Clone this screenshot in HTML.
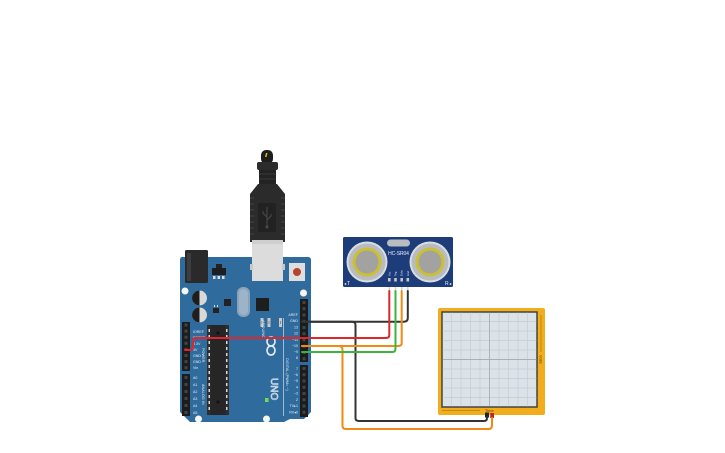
<!DOCTYPE html>
<html><head><meta charset="utf-8"><style>
html,body{margin:0;padding:0;background:#fff;}
svg{display:block;}
text{font-family:"Liberation Sans",sans-serif;}
</style></head><body>
<svg width="725" height="453" viewBox="0 0 725 453" xmlns="http://www.w3.org/2000/svg">
<rect width="725" height="453" fill="#fff"/>

<!-- USB cable -->
<rect x="261" y="150" width="12" height="14" rx="5" fill="#1e1e1e"/>
<path d="M266,153 l1.5,0 -1,4 -1.5,0z" fill="#e8c400"/>
<rect x="257" y="162" width="21" height="8" rx="2" fill="#2c2c2c"/>
<rect x="259" y="170" width="17" height="16" fill="#232323"/>
<line x1="259" y1="174" x2="276" y2="174" stroke="#3a3a3a" stroke-width="1"/>
<line x1="259" y1="179" x2="276" y2="179" stroke="#3a3a3a" stroke-width="1"/>
<path d="M258,184 H277 L285,194 V242 H250 V194 Z" fill="#2b2b2b"/>
<g stroke="#454545" stroke-width="1">
<line x1="250" y1="198" x2="254" y2="198"/><line x1="250" y1="204" x2="254" y2="204"/><line x1="250" y1="210" x2="254" y2="210"/><line x1="250" y1="216" x2="254" y2="216"/><line x1="250" y1="222" x2="254" y2="222"/><line x1="250" y1="228" x2="254" y2="228"/><line x1="250" y1="234" x2="254" y2="234"/>
<line x1="281" y1="198" x2="285" y2="198"/><line x1="281" y1="204" x2="285" y2="204"/><line x1="281" y1="210" x2="285" y2="210"/><line x1="281" y1="216" x2="285" y2="216"/><line x1="281" y1="222" x2="285" y2="222"/><line x1="281" y1="228" x2="285" y2="228"/><line x1="281" y1="234" x2="285" y2="234"/>
</g>
<rect x="258" y="203" width="18" height="29" fill="#222"/>
<g stroke="#4a4a4a" stroke-width="1" fill="none">
<line x1="267" y1="207" x2="267" y2="227"/>
<path d="M267,217 L263,213 V211"/><path d="M267,220 L271,216 V214"/>
</g>
<circle cx="267" cy="227" r="1.5" fill="#4a4a4a"/>

<!-- Arduino board -->
<path d="M182,257 H308 Q311,257 311,260 V412 L304,419 H290 L284,422 H190 L180,412 V260 Q180,257 182,257 Z" fill="#2f6b9c"/>
<!-- USB grey plug -->
<rect x="252" y="240" width="31" height="41" fill="#dcdcdc"/>
<rect x="252" y="240" width="31" height="4" fill="#cfcfcf"/>
<rect x="250" y="264" width="3" height="6" fill="#c8c8c8"/>
<rect x="282" y="264" width="3" height="6" fill="#c8c8c8"/>
<!-- DC jack -->
<rect x="185" y="250" width="23" height="33" rx="1.5" fill="#2a2a2a"/>
<rect x="187" y="253" width="4" height="28" fill="#3d3d3d"/>
<!-- regulator -->
<rect x="216" y="264" width="6" height="4" fill="#222"/>
<rect x="212" y="268" width="14" height="7" fill="#1e1e1e"/>
<rect x="213" y="276" width="2.5" height="3" fill="#ddd"/><rect x="217.5" y="276" width="2.5" height="3" fill="#ddd"/><rect x="222" y="276" width="2.5" height="3" fill="#ddd"/>
<!-- reset -->
<rect x="289" y="263" width="16" height="18" fill="#dedede"/>
<circle cx="297" cy="272" r="4" fill="#b5452c"/>
<!-- mounting holes -->
<circle cx="185" cy="291" r="3.5" fill="#f6f6ee"/>
<circle cx="303.5" cy="293" r="3.5" fill="#f6f6ee"/>
<circle cx="198.5" cy="419" r="3.5" fill="#f6f6ee"/>
<circle cx="266.5" cy="419" r="3.5" fill="#f6f6ee"/>
<!-- capacitors -->
<circle cx="199.5" cy="298" r="7.5" fill="#d9d9d9"/>
<path d="M199.5,290.5 A7.5,7.5 0 0,0 199.5,305.5 Z" fill="#1e1e1e"/>
<circle cx="199.5" cy="315" r="7.5" fill="#d9d9d9"/>
<path d="M199.5,307.5 A7.5,7.5 0 0,0 199.5,322.5 Z" fill="#1e1e1e"/>
<!-- small parts -->
<rect x="224" y="299" width="7" height="7" fill="#222"/>
<rect x="213" y="308" width="6" height="5" fill="#222"/>
<rect x="214" y="305" width="1" height="2" fill="#ddd"/><rect x="217" y="305" width="1" height="2" fill="#ddd"/>
<rect x="237" y="287" width="13" height="30" rx="6" fill="#8aa3bb"/>
<rect x="239" y="289" width="9" height="26" rx="4.5" fill="#9db3c8"/>
<rect x="256" y="298" width="13" height="13" fill="#1e1e1e"/>
<rect x="260.5" y="318" width="3" height="9" fill="#c8c8c8"/>
<rect x="267.5" y="318" width="3" height="9" fill="#c8c8c8"/>
<rect x="279" y="318" width="3" height="9" fill="#c8c8c8"/>
<rect x="261.5" y="321" width="1" height="3" fill="#888"/><rect x="268.5" y="321" width="1" height="3" fill="#888"/><rect x="280" y="321" width="1" height="3" fill="#888"/>
<rect x="265" y="398" width="3.5" height="4" fill="#6ce04a"/>
<!-- main chip -->
<rect x="207" y="325" width="22" height="90" fill="#2e2e2e"/>
<g fill="#d8d8d8">
<rect x="208.5" y="329" width="1.5" height="3"/><rect x="208.5" y="335" width="1.5" height="3"/><rect x="208.5" y="341" width="1.5" height="3"/><rect x="208.5" y="347" width="1.5" height="3"/><rect x="208.5" y="353" width="1.5" height="3"/><rect x="208.5" y="359" width="1.5" height="3"/><rect x="208.5" y="365" width="1.5" height="3"/><rect x="208.5" y="371" width="1.5" height="3"/><rect x="208.5" y="377" width="1.5" height="3"/><rect x="208.5" y="383" width="1.5" height="3"/><rect x="208.5" y="389" width="1.5" height="3"/><rect x="208.5" y="395" width="1.5" height="3"/><rect x="208.5" y="401" width="1.5" height="3"/><rect x="208.5" y="407" width="1.5" height="3"/>
<rect x="226" y="329" width="1.5" height="3"/><rect x="226" y="335" width="1.5" height="3"/><rect x="226" y="341" width="1.5" height="3"/><rect x="226" y="347" width="1.5" height="3"/><rect x="226" y="353" width="1.5" height="3"/><rect x="226" y="359" width="1.5" height="3"/><rect x="226" y="365" width="1.5" height="3"/><rect x="226" y="371" width="1.5" height="3"/><rect x="226" y="377" width="1.5" height="3"/><rect x="226" y="383" width="1.5" height="3"/><rect x="226" y="389" width="1.5" height="3"/><rect x="226" y="395" width="1.5" height="3"/><rect x="226" y="401" width="1.5" height="3"/><rect x="226" y="407" width="1.5" height="3"/>
</g>
<rect x="210.5" y="325" width="15" height="90" fill="#262626"/>
<circle cx="218" cy="333" r="1.5" fill="#111"/>
<circle cx="218" cy="402" r="1.5" fill="#111"/>

<!-- headers -->
<g>
<rect x="182" y="322" width="8" height="49" fill="#1c1c1c"/>
<rect x="182" y="374" width="8" height="42" fill="#1c1c1c"/>
<rect x="300" y="299" width="8" height="63" fill="#1c1c1c"/>
<rect x="300" y="365" width="8" height="52" fill="#1c1c1c"/>
</g>
<g fill="#444">
<rect x="184.5" y="323.5" width="3" height="3"/><rect x="184.5" y="329.6" width="3" height="3"/><rect x="184.5" y="335.7" width="3" height="3"/><rect x="184.5" y="341.8" width="3" height="3"/><rect x="184.5" y="347.9" width="3" height="3"/><rect x="184.5" y="354" width="3" height="3"/><rect x="184.5" y="360.1" width="3" height="3"/><rect x="184.5" y="366.2" width="3" height="3"/>
<rect x="184.5" y="376" width="3" height="3"/><rect x="184.5" y="383" width="3" height="3"/><rect x="184.5" y="390" width="3" height="3"/><rect x="184.5" y="397" width="3" height="3"/><rect x="184.5" y="404" width="3" height="3"/><rect x="184.5" y="411" width="3" height="3"/>
<rect x="302.5" y="301" width="3" height="3"/><rect x="302.5" y="307.25" width="3" height="3"/><rect x="302.5" y="313.5" width="3" height="3"/><rect x="302.5" y="319.75" width="3" height="3"/><rect x="302.5" y="326" width="3" height="3"/><rect x="302.5" y="332.25" width="3" height="3"/><rect x="302.5" y="338.5" width="3" height="3"/><rect x="302.5" y="344.75" width="3" height="3"/><rect x="302.5" y="351" width="3" height="3"/><rect x="302.5" y="357.25" width="3" height="3"/>
<rect x="302.5" y="367" width="3" height="3"/><rect x="302.5" y="373.25" width="3" height="3"/><rect x="302.5" y="379.5" width="3" height="3"/><rect x="302.5" y="385.75" width="3" height="3"/><rect x="302.5" y="392" width="3" height="3"/><rect x="302.5" y="398.25" width="3" height="3"/><rect x="302.5" y="404.5" width="3" height="3"/><rect x="302.5" y="410.75" width="3" height="3"/>
</g>

<!-- board labels -->
<g fill="#e8eef4" font-size="3.6">
<text x="193" y="333">IOREF</text><text x="193" y="339">RESET</text><text x="193" y="345">3.3V</text><text x="193" y="351">5V</text><text x="193" y="357">GND</text><text x="193" y="363">GND</text><text x="193" y="369">Vin</text>
<text x="193" y="379">A0</text><text x="193" y="386">A1</text><text x="193" y="393">A2</text><text x="193" y="400">A3</text><text x="193" y="407">A4</text><text x="193" y="414">A5</text>
</g>
<g fill="#e8eef4" font-size="3.6" text-anchor="end">
<text x="298" y="316">AREF</text><text x="298" y="322">GND</text><text x="298" y="328.5">13</text><text x="298" y="334.5">12</text><text x="298" y="341">~11</text><text x="298" y="347">~10</text><text x="298" y="353">~9</text><text x="298" y="359">8</text>
<text x="298" y="370">7</text><text x="298" y="376">~6</text><text x="298" y="382">~5</text><text x="298" y="388.5">4</text><text x="298" y="394.5">~3</text><text x="298" y="401">2</text><text x="298" y="407">TX▸1</text><text x="298" y="413.5">RX◂0</text>
</g>
<line x1="283.5" y1="318" x2="283.5" y2="416" stroke="#e8eef4" stroke-width="0.6"/>
<text transform="translate(286,358) rotate(90)" fill="#e8eef4" font-size="3.8">DIGITAL (PWM= ~)</text>
<text transform="translate(202,348) rotate(90)" fill="#e8eef4" font-size="3.8">POWER</text>
<text transform="translate(202,384) rotate(90)" fill="#e8eef4" font-size="3.8">ANALOG IN</text>
<text transform="translate(262,320) rotate(90)" fill="#e8eef4" font-size="4">ARDUINO</text>
<text transform="translate(271,378) rotate(90)" fill="#2f6b9c" stroke="#e8eef4" stroke-width="0.6" font-size="10">UNO</text>
<g transform="translate(271,346)" fill="none" stroke="#e8eef4" stroke-width="1.6">
<ellipse cx="0" cy="-4.5" rx="4" ry="4.5"/><ellipse cx="0" cy="4.5" rx="4" ry="4.5"/>
</g>

<!-- HC-SR04 sensor -->
<rect x="343" y="237" width="110" height="50" rx="1.5" fill="#1d3d7a"/>
<rect x="387" y="239.5" width="23" height="7" rx="3.5" fill="#b9bcc0"/>
<circle cx="367" cy="262" r="20.5" fill="#d9dde0"/>
<circle cx="367" cy="262" r="18.5" fill="#b7bcc0"/>
<circle cx="367" cy="262" r="14.5" fill="#cdbf33"/>
<circle cx="367" cy="262" r="11.5" fill="#a2a2a0"/>
<circle cx="430" cy="262" r="20.5" fill="#d9dde0"/>
<circle cx="430" cy="262" r="18.5" fill="#b7bcc0"/>
<circle cx="430" cy="262" r="14.5" fill="#cdbf33"/>
<circle cx="430" cy="262" r="11.5" fill="#a2a2a0"/>
<text x="398.5" y="255" fill="#eef" font-size="5" text-anchor="middle" letter-spacing="-0.1">HC-SR04</text>
<text x="347" y="285" fill="#eef" font-size="5">T</text>
<text x="445" y="285" fill="#eef" font-size="5">R</text>
<circle cx="345.5" cy="284" r="0.9" fill="#eef"/>
<circle cx="450.5" cy="284" r="0.9" fill="#eef"/>
<g fill="#eef" font-size="2.6">
<text transform="translate(390.3,276) rotate(-90)">Vcc</text>
<text transform="translate(396.5,276) rotate(-90)">Trig</text>
<text transform="translate(402.7,276) rotate(-90)">Echo</text>
<text transform="translate(408.8,276) rotate(-90)">Gnd</text>
</g>
<g fill="#c8c8c8">
<rect x="388" y="278" width="2.6" height="3.5"/><rect x="394.2" y="278" width="2.6" height="3.5"/><rect x="400.4" y="278" width="2.6" height="3.5"/><rect x="406.5" y="278" width="2.6" height="3.5"/>
</g>
<g stroke="#d0d0d0" stroke-width="1.4">
<line x1="389.3" y1="287" x2="389.3" y2="292"/><line x1="395.5" y1="287" x2="395.5" y2="292"/><line x1="401.7" y1="287" x2="401.7" y2="292"/><line x1="407.8" y1="287" x2="407.8" y2="292"/>
</g>

<!-- Oscilloscope -->
<rect x="438" y="308" width="107" height="107" rx="2" fill="#f1ad1b"/>
<rect x="442" y="312" width="95" height="95" fill="#dbe3e8" stroke="#3e4448" stroke-width="1.5"/>
<g stroke="#c2ccd1" stroke-width="0.7">
<line x1="451.5" y1="312.5" x2="451.5" y2="406.5"/><line x1="461" y1="312.5" x2="461" y2="406.5"/><line x1="470.5" y1="312.5" x2="470.5" y2="406.5"/><line x1="480" y1="312.5" x2="480" y2="406.5"/>
<line x1="499" y1="312.5" x2="499" y2="406.5"/><line x1="508.5" y1="312.5" x2="508.5" y2="406.5"/><line x1="518" y1="312.5" x2="518" y2="406.5"/><line x1="527.5" y1="312.5" x2="527.5" y2="406.5"/>
<line x1="442.5" y1="321.5" x2="536.5" y2="321.5"/><line x1="442.5" y1="331" x2="536.5" y2="331"/><line x1="442.5" y1="340.5" x2="536.5" y2="340.5"/><line x1="442.5" y1="350" x2="536.5" y2="350"/>
<line x1="442.5" y1="369" x2="536.5" y2="369"/><line x1="442.5" y1="378.5" x2="536.5" y2="378.5"/><line x1="442.5" y1="388" x2="536.5" y2="388"/><line x1="442.5" y1="397.5" x2="536.5" y2="397.5"/>
</g>
<g stroke="#a7b1b5" stroke-width="0.9">
<line x1="489.5" y1="312.5" x2="489.5" y2="406.5"/><line x1="442.5" y1="359.5" x2="536.5" y2="359.5"/>
</g>
<line x1="442" y1="410.5" x2="480" y2="410.5" stroke="#b97f0c" stroke-width="0.8"/>
<text x="485" y="412" fill="#5a3c00" font-size="4">Time</text>
<line x1="541" y1="315" x2="541" y2="352" stroke="#b97f0c" stroke-width="0.8"/>
<text transform="translate(539.5,355) rotate(90)" fill="#5a3c00" font-size="4">Volts</text>
<rect x="485" y="412.5" width="4" height="5" fill="#222"/>
<rect x="490.2" y="413" width="3.8" height="5" fill="#c0281e"/>

<!-- Wires -->
<g fill="none" stroke-width="2" stroke-linecap="round" stroke-linejoin="round">
<path d="M302,321.7 H352 Q355.5,321.7 355.5,325 V418 Q355.5,421 359,421 H484 Q487,421 487,418 V417" stroke="#333"/>
<path d="M302,346 H339 Q342.5,346 342.5,350 V425.5 Q342.5,429 346,429 H488.5 Q492,429 492,425.5 V418" stroke="#f08a12"/>
<path d="M302,321.7 H404 Q407.8,321.7 407.8,318 V291" stroke="#333"/>
<path d="M185,350 H190 Q193,350 193,347 V341 Q193,338 196,338 H386 Q389.3,338 389.3,335 V291" stroke="#e1262b"/>
<path d="M302,346 H398 Q401.7,346 401.7,343 V291" stroke="#f08a12"/>
<path d="M302,352 H392.5 Q395.5,352 395.5,348.5 V291" stroke="#3bb43c"/>
</g>
</svg>
</body></html>
